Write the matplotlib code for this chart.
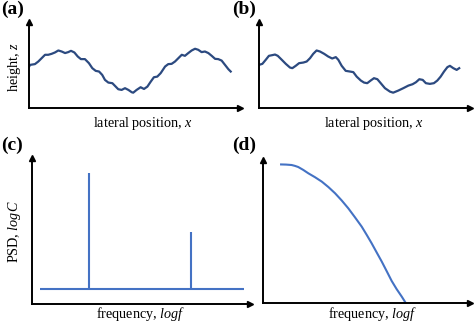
import matplotlib
matplotlib.use("Agg")
import matplotlib.pyplot as plt

plt.rcParams['font.family'] = ['Liberation Serif', 'DejaVu Serif']
plt.rcParams['mathtext.fontset'] = 'custom'
plt.rcParams['mathtext.it'] = 'Liberation Serif:italic'
plt.rcParams['mathtext.rm'] = 'Liberation Serif'

# (a) roughness profile: periodic long wave + small wiggles
pos_a = [0, 0.5, 2.8, 4.4, 6.0, 7.6, 9.1, 10.7, 12.3, 13.9, 15.5, 17.1, 18.6, 19.9,
         21.5, 23.1, 24.6, 26.5, 28.4, 30.0, 31.6, 33.2, 34.7, 36.0, 37.6, 39.5,
         41.1, 42.3, 43.9, 45.5, 47.1, 48.7, 49.4, 51.0, 52.9, 54.5, 56.1, 57.7,
         59.2, 60.8, 62.4, 64.5, 66.0, 67.6, 69.2, 70.8, 72.4, 73.9, 75.5, 77.1,
         78.7, 80.2, 81.8, 83.4, 85.0, 86.6, 88.2, 89.7, 91.3, 92.9, 94.5, 95.6]
height_a = [48.0, 50.3, 51.2, 54.2, 58.1, 62.0, 62.0, 63.1, 64.7, 67.0, 65.8, 64.0,
            65.1, 66.6, 64.7, 60.0, 57.0, 57.0, 52.3, 46.5, 43.4, 42.6, 38.7, 32.9,
            29.8, 29.1, 25.1, 22.1, 21.3, 23.3, 21.3, 18.6, 18.1, 21.3, 24.4, 22.4,
            25.1, 30.9, 36.0, 36.7, 40.7, 48.4, 51.2, 51.5, 54.2, 58.1, 62.0, 60.8,
            64.0, 67.0, 69.0, 67.8, 65.1, 65.8, 64.0, 60.8, 57.3, 57.0, 55.3, 50.3,
            45.3, 42.6]

# (b) random roughness profile
pos_b = [0, 1.6, 3.2, 4.7, 6.3, 7.6, 8.9, 10.8, 12.7, 14.7, 15.8, 17.4, 19.0, 21.0,
         22.6, 24.2, 25.7, 27.3, 28.9, 30.9, 32.8, 34.7, 36.4, 37.6, 39.2, 41.1,
         43.1, 44.7, 46.3, 48.3, 49.8, 51.3, 52.9, 54.5, 56.1, 57.7, 59.7, 62.1,
         63.6, 66.0, 68.4, 70.8, 72.8, 74.4, 76.0, 77.6, 79.1, 81.0, 82.9, 84.5,
         86.1, 87.7, 89.3, 90.5, 92.1, 93.7, 94.9]
height_b = [50.3, 51.5, 56.2, 60.8, 61.6, 62.3, 60.8, 56.2, 51.5, 47.2, 46.5, 49.2,
            52.3, 53.0, 54.2, 58.1, 63.1, 67.0, 65.8, 63.1, 60.0, 57.7, 59.3, 56.2,
            49.2, 43.4, 42.6, 41.9, 36.7, 32.1, 29.8, 29.1, 32.1, 34.9, 33.7, 29.1,
            23.3, 19.3, 18.1, 20.5, 23.3, 26.3, 27.9, 30.2, 33.7, 32.9, 29.1, 28.3,
            29.1, 32.1, 36.7, 42.6, 47.7, 49.2, 46.5, 44.5, 46.5]

# (c) PSD of periodic profile: flat floor with two peaks
floor_c = 10.3
floor_range_c = [3.5, 97.2]
peak_freq_c = [26.2, 72.9]
peak_psd_c = [89.7, 49.6]

# (d) PSD of random profile
freq_d = [8.6, 11.0, 13.7, 15.3, 16.9, 19.3, 21.8, 25.0, 28.3, 31.5, 34.7, 37.9,
          41.1, 44.3, 47.6, 50.0, 52.4, 54.8, 57.3, 59.7, 62.1, 64.5, 67.0, 69.0]
psd_d = [96.9, 96.8, 96.5, 95.9, 95.1, 93.1, 90.7, 88.0, 84.9, 81.1, 76.8, 71.8,
         66.3, 60.1, 53.5, 47.8, 41.9, 35.6, 29.1, 22.4, 15.6, 9.9, 4.6, 0.0]

profile_color = '#2c4a80'
psd_color = '#4472c4'

fig = plt.figure(figsize=(4.74, 3.25), dpi=100)

def arrow_axes(rect):
    ax = fig.add_axes(rect)
    ax.set_xlim(0, 100)
    ax.set_ylim(0, 100)
    for s in ['top', 'right']:
        ax.spines[s].set_visible(False)
    for s in ['left', 'bottom']:
        ax.spines[s].set_linewidth(1.4)
    ax.set_xticks([])
    ax.set_yticks([])
    ax.patch.set_alpha(0)
    ax.plot(1, 0, '>k', ms=4, transform=ax.transAxes, clip_on=False)
    ax.plot(0, 1, '^k', ms=4, transform=ax.transAxes, clip_on=False)
    return ax

ax_a = arrow_axes([0.0612, 0.6668, 0.4451, 0.2655])
ax_a.plot(pos_a, height_a, color=profile_color, lw=1.6, solid_joinstyle='round')

ax_b = arrow_axes([0.5464, 0.6668, 0.4451, 0.2655])
ax_b.plot(pos_b, height_b, color=profile_color, lw=1.6, solid_joinstyle='round')

ax_c = arrow_axes([0.0681, 0.0646, 0.4593, 0.4483])
ax_c.hlines(floor_c, floor_range_c[0], floor_range_c[1], color=psd_color, lw=1.5)
ax_c.vlines(peak_freq_c, floor_c, peak_psd_c, color=psd_color, lw=1.5)

ax_d = arrow_axes([0.5555, 0.0668, 0.4361, 0.4409])
ax_d.plot(freq_d, psd_d, color=psd_color, lw=1.5, solid_joinstyle='round')

fs = 10.2
fig.text(0.3017, 0.6185, 'lateral position, $x$', fontsize=fs, ha='center', va='center')
fig.text(0.789, 0.6185, 'lateral position, $x$', fontsize=fs, ha='center', va='center')
fig.text(0.2975, 0.006, 'frequency, $logf$', fontsize=fs, ha='center', va='bottom')
fig.text(0.787, 0.006, 'frequency, $logf$', fontsize=fs, ha='center', va='bottom')
fig.text(0.0316, 0.7923, 'height, $z$', fontsize=fs, ha='center', va='center', rotation=90)
fig.text(0.0316, 0.287, 'PSD, $logC$', fontsize=fs, ha='center', va='center', rotation=90)

lf = 14
fig.text(0.027, 0.97, '(a)', fontsize=lf, fontweight='bold', ha='center', va='center')
fig.text(0.514, 0.97, '(b)', fontsize=lf, fontweight='bold', ha='center', va='center')
fig.text(0.025, 0.553, '(c)', fontsize=lf, fontweight='bold', ha='center', va='center')
fig.text(0.514, 0.553, '(d)', fontsize=lf, fontweight='bold', ha='center', va='center')

fig.savefig('out.png', dpi=100)
